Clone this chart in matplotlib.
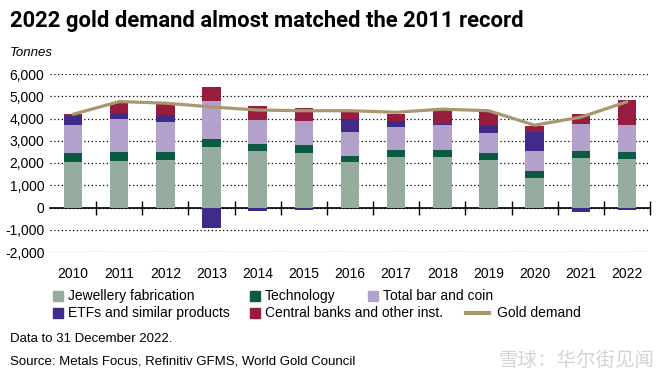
import numpy as np
import matplotlib
matplotlib.use('Agg')
import matplotlib.pyplot as plt
from matplotlib.patches import Rectangle
from matplotlib.lines import Line2D

plt.rcParams['font.family'] = ['Liberation Sans', 'DejaVu Sans']

# Data (tonnes)
years = ['2010', '2011', '2012', '2013', '2014', '2015', '2016',
         '2017', '2018', '2019', '2020', '2021', '2022']
jewellery = [2040, 2090, 2130, 2700, 2540, 2470, 2040, 2270, 2290, 2150, 1310, 2220, 2170]
technology = [430, 400, 350, 370, 320, 320, 270, 300, 310, 280, 310, 310, 310]
bar_coin = [1220, 1510, 1370, 1730, 1090, 1090, 1100, 1050, 1090, 920, 920, 1210, 1220]
etfs = [420, 250, 300, -920, -160, -130, 550, 270, 70, 350, 860, -180, -110]
central_banks = [80, 450, 530, 630, 590, 580, 350, 330, 610, 600, 260, 440, 1130]
gold_demand = [4190, 4760, 4690, 4520, 4380, 4350, 4350, 4280, 4420, 4350, 3700, 4060, 4750]

series_names = ['Jewellery fabrication', 'Technology', 'Total bar and coin',
                'ETFs and similar products', 'Central banks and other inst.']
series_vals = [jewellery, technology, bar_coin, etfs, central_banks]
colors = ['#95ac9e', '#0c5a41', '#b2a2cb', '#402a8a', '#961d3d']
line_color = '#a8986f'

W, H = 666, 380
fig = plt.figure(figsize=(W / 100, H / 100), dpi=100)
ax = fig.add_axes([50 / W, (H - 252) / H, 600 / W, 178 / H])

x = np.arange(len(years))
pos_base = np.zeros(len(years))
neg_base = np.zeros(len(years))
for name, vals, c in zip(series_names, series_vals, colors):
    v = np.array(vals, dtype=float)
    base = np.where(v >= 0, pos_base, neg_base)
    ax.bar(x, v, bottom=base, width=0.4, color=c, zorder=2, linewidth=0)
    pos_base += np.where(v >= 0, v, 0)
    neg_base += np.where(v < 0, v, 0)

ax.plot(x, gold_demand, color=line_color, lw=2.3, zorder=3, solid_capstyle='round')

ax.set_xlim(-0.5, len(years) - 0.5)
ax.set_ylim(-2000, 6000)
ax.set_yticks(np.arange(-2000, 6001, 1000))
ax.set_yticklabels([f'{v:,}' for v in range(-2000, 6001, 1000)], fontsize=10)
ax.tick_params(axis='y', length=0, pad=4)
ax.set_xticks(x)
ax.set_xticklabels(years, fontsize=10)
ax.tick_params(axis='x', length=0, pad=11)
for s in ['top', 'right', 'left', 'bottom']:
    ax.spines[s].set_visible(False)
ax.yaxis.grid(True, linestyle=(0, (1, 2)), color='black', lw=0.9)
ax.set_axisbelow(True)

# zero line with category separators
zero_ax = ax.secondary_xaxis(0.25)
zero_ax.set_xticks(np.arange(0.5, len(years), 1.0))
zero_ax.set_xticklabels([])
zero_ax.tick_params(direction='inout', length=10, width=1, color='black')
zero_ax.spines['bottom'].set_linewidth(1.2)

# Titles and notes
fig.text(10 / W, 1 - 21 / H, '2022 gold demand almost matched the 2011 record',
         fontsize=15.8, fontweight='bold', va='center', ha='left',
         family=['Liberation Sans Narrow', 'Roboto', 'DejaVu Sans'])
fig.text(10 / W, 1 - 53 / H, 'Tonnes', fontsize=9.5, style='italic', va='center')
fig.text(10 / W, 1 - 339 / H, 'Data to 31 December 2022.', fontsize=9.5, va='center')
fig.text(10 / W, 1 - 362 / H, 'Source: Metals Focus, Refinitiv GFMS, World Gold Council',
         fontsize=9.5, va='center')
fig.text(655 / W, 1 - 360 / H, '雪球：华尔街见闻', fontsize=14, color='#d4d4d4',
         va='center', ha='right', family=['Noto Sans CJK SC', 'DejaVu Sans'])

# Legend (manual layout)
legend_items = [
    (series_names[0], colors[0], 53, 296),
    (series_names[1], colors[1], 250, 296),
    (series_names[2], colors[2], 368, 296),
    (series_names[3], colors[3], 53, 313),
    (series_names[4], colors[4], 250, 313),
]
for label, c, px, py in legend_items:
    fig.patches.append(Rectangle((px / W, 1 - (py + 5) / H), 10 / W, 10 / H,
                                 transform=fig.transFigure, color=c))
    fig.text((px + 15) / W, 1 - py / H, label, fontsize=10, va='center')
fig.lines.append(Line2D([466 / W, 489 / W], [1 - 313 / H, 1 - 313 / H],
                        transform=fig.transFigure, color=line_color, lw=3))
fig.text(497 / W, 1 - 313 / H, 'Gold demand', fontsize=10, va='center')

fig.savefig('out.png', dpi=100)
plt.close(fig)
